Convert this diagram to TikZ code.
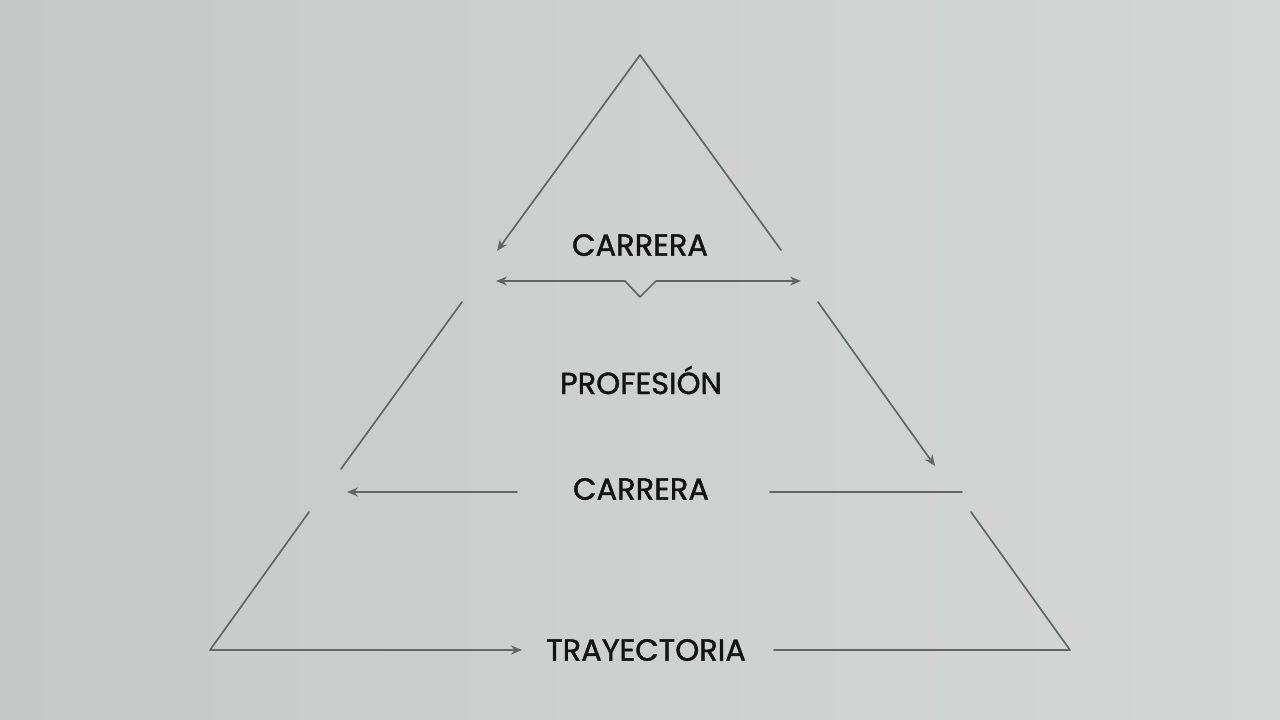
\documentclass[tikz,border=0pt]{standalone}
\usepackage{fontspec}
\setmainfont{Poppins}
\newfontfamily\lblfont{Poppins}[FakeBold=1.3]
\usetikzlibrary{arrows.meta}
\definecolor{bgL}{RGB}{197,202,201}
\definecolor{bgR}{RGB}{212,215,214}
\definecolor{ln}{RGB}{95,104,103}
\definecolor{tx}{RGB}{18,20,20}
\tikzset{
  conn/.style={draw=ln, line width=1.7pt, line cap=round, line join=round},
  tip/.style={-{Stealth[length=11pt,width=9pt]}},
  lbl/.style={text=tx, font=\lblfont\fontsize{30.5}{34}\selectfont, inner sep=0pt}
}
\begin{document}
\begin{tikzpicture}[x=1pt,y=-1pt]
\shade[left color=bgL, right color=bgR] (0,0) rectangle (1280,720);
\useasboundingbox (0,0) rectangle (1280,720);
% coordinates
\coordinate (apex) at (640,55);
\coordinate (a1) at (497,251);
\coordinate (a2) at (781,250);
\coordinate (d1) at (496,281);
\coordinate (d2) at (801,281);
\coordinate (n1) at (625,281);
\coordinate (n2) at (640,297);
\coordinate (n3) at (656,281);
\coordinate (r1) at (818,302);
\coordinate (r2) at (935,466);
\coordinate (l1) at (462,302);
\coordinate (l2) at (341,469);
\coordinate (m1) at (517,492);
\coordinate (m2) at (347,492);
\coordinate (m3) at (770,492);
\coordinate (m4) at (962,492);
\coordinate (b1) at (309,512);
\coordinate (b2) at (210,650);
\coordinate (b3) at (522,650);
\coordinate (c1) at (971,512);
\coordinate (c2) at (1070,650);
\coordinate (c3) at (774,650);
% texts
\node[lbl] (t1) at (640,245) {CARRERA};
\node[lbl] (t2) at (641,380) {PROFESIÓN};
\node[lbl] (t3) at (641,489) {CARRERA};
\node[lbl] (t4) at (646,650) {TRAYECTORIA};
% lines
\draw[conn,tip] (apex) -- (a1);
\draw[conn] (apex) -- (a2);
\draw[conn,{Stealth[length=11pt,width=9pt]}-{Stealth[length=11pt,width=9pt]}] (d1) -- (n1) -- (n2) -- (n3) -- (d2);
\draw[conn,tip] (r1) -- (r2);
\draw[conn] (l1) -- (l2);
\draw[conn,tip] (m1) -- (m2);
\draw[conn] (m3) -- (m4);
\draw[conn,tip] (b1) -- (b2) -- (b3);
\draw[conn] (c1) -- (c2) -- (c3);
\end{tikzpicture}
\end{document}
